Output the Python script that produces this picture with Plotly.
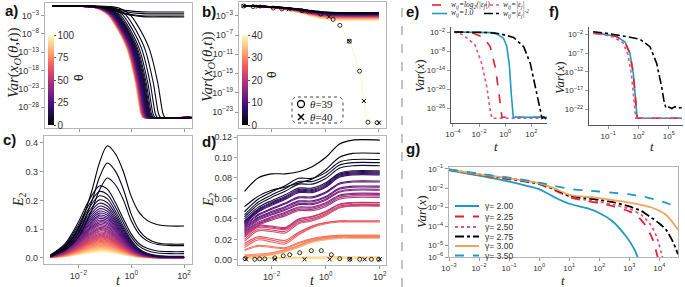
import plotly.graph_objects as go
from plotly.colors import sample_colorscale

W, H = 685, 287

# ======================= DATA =======================
# ---- panel a : Var(x_O(theta,t)), theta = 0..100 ----
a_plateau_theta = [0, 1, 2, 3]
a_plateau_logv = [-2.0, -2.5, -3.1, -3.35]
a_plateau_shape_logt = [-3.0, -1.6, -1.2, -0.8, -0.4, 0.0, 0.4, 0.8, 2.0]
a_plateau_shape = [0.0, 0.02, 0.12, 0.35, 0.62, 0.85, 0.97, 1.0, 1.0]
a_start_logv = -0.35
a_base_logt = [-3.0, -2.5, -2.0, -1.55, -1.2, -0.9, -0.67, -0.4, -0.16, 0.15, 0.34, 0.42, 2.0]
a_base_logv = [-0.35, -0.38, -0.45, -0.6, -1.3, -2.8, -5.1, -8.5, -12.4, -21.5, -29.7, -30.8, -30.8]
# horizontal offset (decades) of the collapse, theta = 4..100
a_shift = [0.85, 0.68, 0.56, 0.47, 0.41, 0.37, 0.34, 0.32, 0.30, 0.285,
           0.27, 0.26, 0.25, 0.24, 0.23, 0.22, 0.215,
           0.21, 0.205, 0.20, 0.195, 0.19, 0.185, 0.18, 0.175, 0.17, 0.165,
           0.16, 0.156, 0.152, 0.148, 0.144, 0.14, 0.137, 0.134, 0.131, 0.128,
           0.125, 0.122, 0.119, 0.116, 0.113, 0.11, 0.107, 0.104, 0.101, 0.098,
           0.095, 0.092, 0.089, 0.086, 0.083, 0.08, 0.078, 0.076, 0.074, 0.072,
           0.07, 0.068, 0.066, 0.064, 0.062, 0.06, 0.058, 0.056, 0.054, 0.052,
           0.05, 0.048, 0.046, 0.044, 0.042, 0.04, 0.038, 0.036, 0.034, 0.032,
           0.03, 0.028, 0.026, 0.024, 0.022, 0.02, 0.018, 0.016, 0.014, 0.012,
           0.011, 0.01, 0.009, 0.008, 0.007, 0.006, 0.005, 0.004, 0.002, 0.0]

# ---- panel b : theta = 0..40 ----
b_start_logv = -0.98
b_shape_logt = [-3.02, -2.5, -2.0, -1.5, -1.0, -0.5, 0.0, 0.5, 2.0]
b_shape = [0.0, 0.04, 0.12, 0.25, 0.45, 0.72, 0.92, 1.0, 1.0]
b_plateau_logv = [-2.37, -2.42, -2.46, -2.5, -2.53, -2.56, -2.59, -2.62, -2.65, -2.68,
                  -2.71, -2.74, -2.77, -2.8, -2.83, -2.86, -2.89, -2.92, -2.95, -2.98,
                  -3.01, -3.04, -3.07, -3.1, -3.13, -3.16, -3.2, -3.24, -3.28, -3.32,
                  -3.37, -3.42, -3.47, -3.52, -3.57, -3.63, -3.7, -3.78, -3.88]
b_drop_logt = [-3.02, -2.67, -2.48, -1.92, -1.6, -1.35, -0.85, -0.58, -0.16, 0.15,
               0.3, 0.55, 0.9, 1.28, 1.44, 1.59, 1.93, 2.0]
b_drop_logv = [-0.98, -1.1, -1.1, -1.4, -1.6, -1.67, -1.96, -2.17, -2.65, -3.2,
               -3.75, -5.0, -8.3, -14.5, -20.7, -25.1, -25.2, -25.2]
b39_logt = [-3.02, -2.67, -1.92, -1.6, -0.85, -0.16, 0.3, 0.55, 0.9, 1.28, 1.59, 1.93]
b39_logv = [-0.98, -1.1, -1.4, -1.6, -1.96, -2.65, -3.75, -5.0, -8.3, -14.5, -25.1, -25.2]
b40_logt = [-3.02, -2.48, -1.35, -0.58, 0.15, 0.9, 1.44, 2.0]
b40_logv = [-0.98, -1.1, -1.67, -2.17, -3.2, -8.3, -20.7, -25.2]

# ---- panel c : E2, theta = 0,2,...,100 ----
c_theta = list(range(0, 101, 2))
c_peak = [0.390, 0.330, 0.278, 0.250, 0.231, 0.216, 0.202, 0.190, 0.180, 0.171,
          0.163, 0.156, 0.149, 0.143, 0.137, 0.131, 0.126, 0.121, 0.116, 0.111,
          0.106, 0.102, 0.098, 0.094, 0.090, 0.086, 0.082, 0.078, 0.075, 0.072,
          0.069, 0.066, 0.063, 0.060, 0.057, 0.054, 0.051, 0.048, 0.045, 0.043,
          0.040, 0.038, 0.036, 0.034, 0.032, 0.030, 0.028, 0.026, 0.024, 0.022,
          0.020]
c_plateau = [0.111, 0.048, 0.043, 0.022, 0.015, 0.006, 0.005, 0.0045, 0.004, 0.0035,
             0.003, 0.003, 0.0028, 0.0026, 0.0024, 0.0022, 0.002, 0.002, 0.0018, 0.0016,
             0.0015, 0.0014, 0.0013, 0.0012, 0.0011, 0.001, 0.001, 0.0009, 0.0009, 0.0008,
             0.0008, 0.0007, 0.0007, 0.0006, 0.0006, 0.0005, 0.0005, 0.0005, 0.0004, 0.0004,
             0.0004, 0.0003, 0.0003, 0.0003, 0.0002, 0.0002, 0.0002, 0.0001, 0.0001, 0.0001,
             0.0]
c_top_logt = [-3.06, -2.5, -2.0, -1.5, -1.2, -0.9, -0.6, -0.3, 0.0, 0.3, 0.6, 1.0, 1.5, 2.0]
c_top_shape = [0.02, 0.1, 0.26, 0.59, 0.85, 1.0, 0.9, 0.68, 0.37, 0.17, 0.07, 0.015, 0.0, 0.0]
c_mass_logt = [-3.06, -2.5, -2.0, -1.6, -1.2, -0.9, -0.6, -0.3, 0.0, 0.3, 0.6, 1.0, 1.5, 2.0]
c_mass_shape = [0.04, 0.2, 0.5, 0.8, 1.0, 0.95, 0.75, 0.5, 0.27, 0.12, 0.05, 0.01, 0.0, 0.0]

# ---- panel d : E2, theta = 0..40 ----
d_logt = [-3.0, -2.5, -2.0, -1.5, -1.0, -0.5, 0.0, 0.5, 1.0, 2.0]
d_theta0 = [0.067, 0.080, 0.084, 0.084, 0.086, 0.091, 0.100, 0.113, 0.117, 0.117]
d_theta1 = [0.052, 0.062, 0.068, 0.071, 0.075, 0.079, 0.088, 0.100, 0.104, 0.104]
d_start = [0.067, 0.052, 0.047, 0.044, 0.042, 0.040, 0.038, 0.037, 0.036, 0.035,
           0.034, 0.033, 0.032, 0.031, 0.030, 0.029, 0.028, 0.027, 0.026, 0.025,
           0.024, 0.023, 0.022, 0.020, 0.018, 0.016, 0.014, 0.012, 0.010, 0.009,
           0.005, 0.004, 0.0035, 0.003, 0.0028, 0.0025, 0.002, 0.0018, 0.0015]
d_plateau = [0.117, 0.104, 0.098, 0.095, 0.092, 0.087, 0.086, 0.085, 0.084, 0.083,
             0.077, 0.076, 0.072, 0.071, 0.069, 0.068, 0.065, 0.064, 0.0625, 0.061,
             0.056, 0.0555, 0.054, 0.053, 0.0525, 0.038, 0.038, 0.037, 0.024, 0.023,
             0.022, 0.024, 0.023, 0.022, 0.021, 0.021, 0.003, 0.002, 0.0015]
d_shape_purple = [0.0, 0.24, 0.38, 0.5, 0.64, 0.64, 0.75, 0.95, 1.0, 1.0]
d_shape_red = [0.0, 0.3, 0.28, 0.24, 0.5, 0.58, 0.73, 0.95, 1.0, 1.0]
d_shape_bump = [0.0, 0.3, 0.22, 0.14, 0.5, 0.78, 0.93, 1.0, 1.0, 1.0]
d_shape_orange = [0.0, 0.04, 0.12, 0.28, 0.52, 0.8, 0.93, 1.0, 1.0, 1.0]
d39_logt = [-2.98, -2.62, -2.44, -2.25, -1.88, -1.57, -1.33, -0.96, -0.53, -0.16,
            0.21, 0.52, 0.89, 1.26, 1.69, 1.96]
d39 = [0.0012, 0.0006, 0.001, 0.001, 0.002, 0.004, 0.005, 0.007, 0.009, 0.009,
       0.005, 0.0012, 0.0006, 0.0006, 0.0006, 0.0006]
d40_logt = [-2.94, -1.88, -0.78, 0.15, 0.89, 1.44, 2.0]
d40 = [0.0006, 0.0006, 0.0006, 0.0006, 0.0006, 0.0006, 0.0006]

# ---- panel e ----
e_series = {
    "log2": ([-3.9, -3.0, -2.44, -1.67, -1.15, -0.77, -0.51, -0.31, -0.25, 3.3],
             [-1.9, -2.0, -2.3, -3.6, -6.5, -12.9, -20.2, -28.6, -28.8, -28.8]),
    "abs": ([-3.9, -3.6, -3.2, -2.31, -1.8, -1.41, -1.15, -1.02, 3.3],
            [-1.95, -2.2, -2.85, -6.0, -11.8, -19.2, -26.5, -29.1, -29.1]),
    "one": ([-3.9, -1.5, -1.0, -0.64, -0.13, 0.13, 0.33, 0.46, 0.56, 0.62, 3.3],
            [-1.9, -1.95, -2.1, -2.5, -3.9, -6.5, -12.9, -21.2, -28.6, -28.8, -28.8]),
    "inv2": ([-3.9, -2.5, -1.5, -0.8, -0.38, 0.64, 1.41, 1.92, 2.31, 2.64, 2.82, 2.95, 3.1, 3.3],
             [-1.9, -1.95, -2.05, -2.25, -2.5, -3.6, -6.5, -11.8, -19.2, -26.5, -29.1, -28.7, -29.2, -28.9]),
}
# ---- panel f ----
f_series = {
    "one": ([-2.49, -1.5, -0.17, 0.65, 1.15, 1.48, 1.71, 1.87, 6.3],
            [-1.7, -1.95, -2.6, -4.0, -7.1, -12.4, -19.5, -24.4, -24.4]),
    "log2": ([-2.49, -1.5, -0.17, 0.65, 1.15, 1.48, 1.71, 1.87, 6.3],
             [-1.7, -1.95, -2.6, -4.0, -7.1, -12.4, -19.5, -24.4, -24.4]),
    "abs": ([-2.49, -1.5, -0.5, 0.45, 0.95, 1.3, 1.55, 1.72, 6.3],
            [-1.75, -2.05, -2.7, -4.2, -7.4, -12.8, -19.6, -24.4, -24.4]),
    "inv2": ([-2.49, -1.16, 0.82, 2.14, 3.13, 3.79, 4.29, 4.5, 4.71, 5.0, 5.3, 5.6, 5.9, 6.3],
             [-1.3, -1.73, -2.6, -3.3, -5.3, -9.7, -16.0, -19.5, -21.7, -21.4, -21.8, -21.3, -21.7, -21.5]),
}
ef_labels = {
    "log2": "w<sub>ij</sub>=log<sub>2</sub>(|ε<sub>j</sub>|)",
    "one": "w<sub>ij</sub>=1.0",
    "abs": "w<sub>ij</sub>=|ε<sub>j</sub>|",
    "inv2": "w<sub>ij</sub>=|ε<sub>j</sub>|<sup>-2</sup>",
}

# ---- panel g ----
g_gamma = ["2.00", "2.25", "2.50", "2.75", "3.00", "3.50"]
g_logt = [
    [-3, -2, -1, 0, 0.56, 1.0, 1.56, 2.0, 2.44, 2.89, 3.17, 3.3],
    [-3, -2, -1, 0, 0.5, 1.0, 1.5, 2.0, 2.5, 3.0, 3.3, 3.56, 3.78, 3.96],
    [-3, -2, -1, 0, 0.5, 1.0, 1.5, 2.0, 2.5, 3.0, 3.4, 3.7, 3.9, 4.12],
    [-3, -2, -1, 0, 0.5, 1.0, 1.5, 2.0, 2.5, 3.0, 3.4, 3.67, 4.0, 4.22, 4.45, 4.62],
    [-3, -2, -1, 0, 0.5, 1.0, 1.5, 2.0, 2.5, 3.0, 3.5, 3.78, 4.22, 4.62],
    [-3, -2, -1, 0, 0.5, 1.0, 1.5, 2.0, 2.5, 3.1, 3.5, 3.89, 4.3, 4.62],
]
g_logv = [
    [-1.07, -1.35, -1.66, -2.06, -2.52, -2.82, -3.04, -3.3, -3.73, -4.52, -5.2, -5.7],
    [-1.05, -1.32, -1.54, -1.8, -2.1, -2.47, -2.65, -2.79, -2.97, -3.22, -3.5, -4.0, -4.69, -5.7],
    [-1.05, -1.3, -1.52, -1.78, -2.08, -2.43, -2.6, -2.72, -2.88, -3.08, -3.4, -3.9, -4.5, -5.7],
    [-1.04, -1.29, -1.5, -1.77, -2.05, -2.4, -2.52, -2.61, -2.75, -2.96, -3.2, -3.48, -3.85, -4.17, -4.8, -5.45],
    [-1.03, -1.28, -1.49, -1.75, -2.02, -2.35, -2.45, -2.52, -2.64, -2.76, -2.92, -3.04, -3.39, -4.17],
    [-1.02, -1.25, -1.45, -1.71, -1.88, -2.04, -2.12, -2.18, -2.25, -2.35, -2.45, -2.61, -2.82, -3.04],
]

# ======================= STYLE =======================
RED, PINK, BLUE, ORANGE = "#e5202b", "#e0547e", "#1f9ac6", "#f0a55c"
ef_style = {"log2": (RED, "dash"), "abs": (PINK, "dot"), "one": (BLUE, "solid"), "inv2": ("black", "dashdot")}
g_style = [(BLUE, "solid"), (RED, "dash"), (PINK, "dot"), ("black", "dashdot"), (ORANGE, "solid"), (BLUE, "dash")]
SANS = "Liberation Sans"
SERIF = "Liberation Serif"
FRAME = "#b5b5b5"


def X(px):
    return px / W


def Y(py):
    return 1 - py / H


def pw(v):
    return [10 ** u for u in v]


def mag(frac):
    return sample_colorscale("Magma", [min(max(frac, 0), 1)])[0]


fig = go.Figure()


def add(n, x, y, **kw):
    ref = "" if n == 1 else str(n)
    kw.setdefault("mode", "lines")
    fig.add_trace(go.Scatter(x=x, y=y, xaxis="x" + ref, yaxis="y" + ref,
                             showlegend=False, hoverinfo="skip", **kw))


# ---------- panel a ----------
for k in range(len(a_shift) - 1, -1, -1):
    th = k + 4
    xs = [-3.0] + [u + a_shift[k] for u in a_base_logt]
    ys = [a_start_logv] + a_base_logv
    add(1, pw(xs), pw(ys), line=dict(color=mag(th / 100), width=1.1, shape="spline", smoothing=0.6))
for i in range(len(a_plateau_theta) - 1, -1, -1):
    ys = [a_start_logv + (a_plateau_logv[i] - a_start_logv) * h for h in a_plateau_shape]
    add(1, pw(a_plateau_shape_logt), pw(ys),
        line=dict(color=mag(a_plateau_theta[i] / 100), width=1.1, shape="spline", smoothing=0.8))

# ---------- panel b ----------
add(2, pw(b_drop_logt), pw(b_drop_logv), line=dict(color=mag(39.5 / 40), width=1.0, shape="spline", smoothing=0.6))
for th in range(len(b_plateau_logv) - 1, -1, -1):
    ys = [b_start_logv + (b_plateau_logv[th] - b_start_logv) * h for h in b_shape]
    add(2, pw(b_shape_logt), pw(ys), line=dict(color=mag(th / 40), width=1.4, shape="spline", smoothing=0.8))
add(2, pw(b39_logt), pw(b39_logv), mode="markers",
    marker=dict(symbol="circle-open", size=4, color="black", line=dict(width=0.8)))
add(2, pw(b40_logt), pw(b40_logv), mode="markers",
    marker=dict(symbol="x-thin-open", size=4, color="black", line=dict(width=1)))

# ---------- panel c ----------
for i in range(len(c_theta) - 1, -1, -1):
    if i < 3:
        lt, sh, pk_t = c_top_logt, c_top_shape, -0.9 - 0.1 * i
    else:
        lt, sh, pk_t = c_mass_logt, c_mass_shape, -1.2
    ys = []
    for u, g in zip(lt, sh):
        if u <= pk_t:
            ys.append(c_peak[i] * g)
        else:
            ys.append(c_plateau[i] + (c_peak[i] - c_plateau[i]) * g)
    add(3, pw(lt), ys, line=dict(color=mag(c_theta[i] / 100), width=1.1, shape="spline", smoothing=0.9))

# ---------- panel d ----------
add(4, pw(d39_logt), d39, line=dict(color=mag(39 / 40), width=1.0, shape="spline", smoothing=0.6))
add(4, pw(d40_logt), d40, line=dict(color=mag(1.0), width=1.0))
for th in range(len(d_start) - 1, -1, -1):
    if th == 0:
        ys = d_theta0
    elif th == 1:
        ys = d_theta1
    else:
        if th < 20:
            sh = d_shape_purple
        elif th < 25:
            sh = d_shape_red
        elif th < 30:
            sh = d_shape_bump
        else:
            sh = d_shape_orange
        ys = [d_start[th] + (d_plateau[th] - d_start[th]) * h for h in sh]
    add(4, pw(d_logt), ys, line=dict(color=mag(th / 40), width=1.1, shape="spline", smoothing=0.8))
add(4, pw(d39_logt), d39, mode="markers",
    marker=dict(symbol="circle-open", size=4, color="black", line=dict(width=0.8)))
add(4, pw(d40_logt), d40, mode="markers",
    marker=dict(symbol="x-thin-open", size=4, color="black", line=dict(width=1)))

# ---------- panel e / f ----------
for key in ["abs", "log2", "one", "inv2"]:
    c, d = ef_style[key]
    add(5, pw(e_series[key][0]), pw(e_series[key][1]), line=dict(color=c, dash=d, width=1.6))
for key in ["one", "log2", "abs", "inv2"]:
    c, d = ef_style[key]
    add(6, pw(f_series[key][0]), pw(f_series[key][1]), line=dict(color=c, dash=d, width=1.6))

# ---------- panel g ----------
for i in range(len(g_gamma)):
    c, d = g_style[i]
    add(7, pw(g_logt[i]), pw(g_logv[i]), line=dict(color=c, dash=d, width=1.8, shape="spline", smoothing=0.6))

# ---------- colour bars ----------
for n, cmax, ticks, x0 in [(1, 100, [0, 25, 50, 75, 100], 48), (2, 40, [0, 10, 20, 30, 40], 242)]:
    ref = "" if n == 1 else str(n)
    fig.add_trace(go.Scatter(
        x=[1e-3], y=[1e-3], xaxis="x" + ref, yaxis="y" + ref, mode="markers", showlegend=False,
        hoverinfo="skip",
        marker=dict(size=1, opacity=0, color=[0], cmin=0, cmax=cmax, colorscale="Magma", showscale=True,
                    colorbar=dict(x=X(x0), xanchor="left", y=Y(80), yanchor="middle",
                                  len=90 / H, lenmode="fraction", thickness=6, thicknessmode="pixels",
                                  xpad=0, ypad=0, outlinewidth=0, tickvals=ticks, ticks="outside",
                                  ticklen=2, tickcolor="#555",
                                  tickfont=dict(family=SANS, size=10, color="#333")))))


# ======================= AXES =======================
def sup(e):
    return "10<sup>" + str(e).replace("-", "−") + "</sup>"


base = dict(showgrid=False, zeroline=False, showline=True, linecolor=FRAME, linewidth=1.2,
            ticks="outside", ticklen=3, tickcolor="#999", automargin=False)

axes = {
    1: dict(xd=(45, 192), yd=(3, 128), xr=(-3.3, 2.3), yr=(-33.7, 0.47), xt=[-2, 0, 2], yt=[-3, -8, -13, -18, -23, -28],
            xlab=False, box=True),
    2: dict(xd=(239, 386), yd=(2, 128), xr=(-3.19, 2.26), yr=(-26.3, -0.15), xt=[-2, 0, 2], yt=[-3, -7, -11, -15, -19, -23],
            xlab=False, box=True),
    3: dict(xd=(44, 192), yd=(136, 264), xr=(-3.3, 2.3), yr=(-0.021, 0.424), xt=[-2, 0, 2], yt=None,
            xlab=True, box=True, ylin=([0, 0.1, 0.2, 0.3, 0.4], ["0.0", "0.1", "0.2", "0.3", "0.4"])),
    4: dict(xd=(238, 386), yd=(136, 265), xr=(-3.24, 2.23), yr=(-0.005, 0.121), xt=[-2, 0, 2], yt=None,
            xlab=True, box=True, ylin=([0, 0.02, 0.04, 0.06, 0.08, 0.10, 0.12],
                                       ["0.00", "0.02", "0.04", "0.06", "0.08", "0.10", "0.12"])),
    5: dict(xd=(451, 547), yd=(27, 123), xr=(-4.15, 3.2), yr=(-30.6, -0.33), xt=[-4, -2, 0, 2], yt=[-2, -8, -14, -20, -26],
            xlab=True, box=False),
    6: dict(xd=(589, 683), yd=(27, 125), xr=(-2.9, 6.4), yr=(-26.2, -0.05), xt=[-1, 2, 5], yt=[-2, -7, -12, -17, -22],
            xlab=True, box=False),
    7: dict(xd=(449, 678), yd=(167, 257), xr=(-3.0, 4.62), yr=(-5.6, -0.9), xt=[-3, -2, -1, 0, 1, 2, 3, 4],
            yt=[-1, -2, -3, -4, -5], xlab=True, box=True),
}
for n, a in axes.items():
    ref = "" if n == 1 else str(n)
    small = n >= 5
    tf = dict(family=SANS, size=8 if small else 9, color="#333")
    xa = dict(base, domain=[X(a["xd"][0]), X(a["xd"][1])], anchor="y" + ref, type="log", range=list(a["xr"]),
              tickvals=[10 ** e for e in a["xt"]], showticklabels=a["xlab"], mirror=a["box"], tickfont=tf)
    if a["xlab"]:
        xa["ticktext"] = [sup(e) for e in a["xt"]]
    ya = dict(base, domain=[Y(a["yd"][1]), Y(a["yd"][0])], anchor="x" + ref, range=list(a["yr"]),
              mirror=a["box"], tickfont=tf)
    if a["yt"] is not None:
        ya["type"] = "log"
        tv = [10 ** e for e in a["yt"]]
        tt = [sup(e) for e in a["yt"]]
        if n == 7:
            tv.append(10 ** -5.6)
            tt.append(sup(-6))
        ya["tickvals"] = tv
        ya["ticktext"] = tt
    else:
        ya["tickvals"], ya["ticktext"] = a["ylin"]
    if small:
        xa["linecolor"] = "#555"
        ya["linecolor"] = "#555"
        if n == 7:
            xa["linecolor"] = FRAME
            ya["linecolor"] = FRAME
    fig.layout["xaxis" + ref] = xa
    fig.layout["yaxis" + ref] = ya

# ======================= ANNOTATIONS / SHAPES =======================
ann = []


def text(px, py, s, size=10, family=SERIF, angle=0, xanchor="center", bold=False, color="#222"):
    if bold:
        s = "<b>" + s + "</b>"
    ann.append(dict(x=X(px), y=Y(py), xref="paper", yref="paper", text=s, showarrow=False,
                    textangle=angle, xanchor=xanchor, yanchor="middle",
                    font=dict(family=family, size=size, color=color)))


for lab, px, py in [("a)", 11, 10), ("b)", 209, 11), ("c)", 9, 139), ("d)", 209, 141),
                    ("e)", 412, 12), ("f)", 554, 11), ("g)", 413, 148)]:
    text(px, py, lab, size=15, family=SANS, bold=True, color="#111")

var_x0 = "<i>Var</i>(<i>x</i><sub><i>O</i></sub>(<i>θ</i>,<i>t</i>))"
text(14, 63, var_x0, size=15, angle=-90)
text(208, 67, var_x0, size=15, angle=-90)
text(19, 200, "<i>E</i><sub>2</sub>", size=14, angle=-90)
text(209, 200, "<i>E</i><sub>2</sub>", size=14, angle=-90)
text(118, 280, "<i>t</i>", size=14)
text(312, 280, "<i>t</i>", size=14)
text(419, 76, "<i>Var</i>(<i>x</i>)", size=13, angle=-90)
text(559, 78, "<i>Var</i>(<i>x</i>)", size=13, angle=-90)
text(421, 212, "<i>Var</i>(<i>x</i>)", size=13, angle=-90)
text(496, 146, "<i>t</i>", size=13)
text(652, 146, "<i>t</i>", size=13)
text(563, 280, "<i>t</i>", size=13)
text(79, 78, "θ", size=12, family=SANS, angle=-90)
text(272, 75, "θ", size=12, family=SANS, angle=-90)

# b legend box
text(308, 104, "<i>θ</i>=39", size=11, xanchor="left")
text(308, 117, "<i>θ</i>=40", size=11, xanchor="left")

shapes = []
x0, x1, y0, y1, r = X(292), X(343), Y(123), Y(97), 6
rx, ry = r / W, r / H
path = (f"M {x0+rx},{y0} L {x1-rx},{y0} Q {x1},{y0} {x1},{y0+ry} L {x1},{y1-ry} Q {x1},{y1} {x1-rx},{y1} "
        f"L {x0+rx},{y1} Q {x0},{y1} {x0},{y1-ry} L {x0},{y0+ry} Q {x0},{y0} {x0+rx},{y0} Z")
shapes.append(dict(type="path", path=path, xref="paper", yref="paper",
                   line=dict(color="#444", width=1, dash="dot")))
fig.add_trace(go.Scatter(x=[X(301)], y=[Y(104)], xaxis="x8", yaxis="y8", mode="markers", showlegend=False,
                         hoverinfo="skip",
                         marker=dict(symbol="circle-open", size=7, color="black", line=dict(width=1.3))))
fig.add_trace(go.Scatter(x=[X(301)], y=[Y(117)], xaxis="x8", yaxis="y8", mode="markers", showlegend=False,
                         hoverinfo="skip",
                         marker=dict(symbol="x-thin-open", size=6, color="black", line=dict(width=1.5))))
fig.layout["xaxis8"] = dict(domain=[0, 1], range=[0, 1], visible=False, anchor="y8")
fig.layout["yaxis8"] = dict(domain=[0, 1], range=[0, 1], visible=False, anchor="x8")

# separator
shapes.append(dict(type="line", xref="paper", yref="paper", x0=X(402), x1=X(402), y0=0, y1=1,
                   line=dict(color="#888", width=1, dash="dash")))

# e legend
for key, (lx, ly) in {"log2": (432, 5), "abs": (484, 5), "one": (432, 13.5), "inv2": (484, 13.5)}.items():
    c, d = ef_style[key]
    shapes.append(dict(type="line", xref="paper", yref="paper", x0=X(lx), x1=X(lx + 15), y0=Y(ly), y1=Y(ly),
                       line=dict(color=c, dash=d, width=1.6)))
    text(lx + 17, ly, "<i>" + ef_labels[key] + "</i>", size=7.5, xanchor="left")

# g legend
g_rows = [206, 216.5, 227, 236.5, 246, 255.5]
for i in range(len(g_gamma)):
    c, d = g_style[i]
    shapes.append(dict(type="line", xref="paper", yref="paper", x0=X(455), x1=X(479), y0=Y(g_rows[i]),
                       y1=Y(g_rows[i]), line=dict(color=c, dash=d, width=2)))
    text(483, g_rows[i], "γ= " + g_gamma[i], size=8.5, family=SANS, xanchor="left", color="#333")

fig.update_layout(width=W, height=H, margin=dict(l=0, r=0, t=0, b=0, pad=0, autoexpand=False),
                  paper_bgcolor="white", plot_bgcolor="rgba(0,0,0,0)", annotations=ann, shapes=shapes,
                  showlegend=False, hovermode=False)
fig.write_html("out.html", config={"displayModeBar": False, "staticPlot": True},
               post_script="document.body.style.margin='0px';document.body.style.overflow='hidden';")
